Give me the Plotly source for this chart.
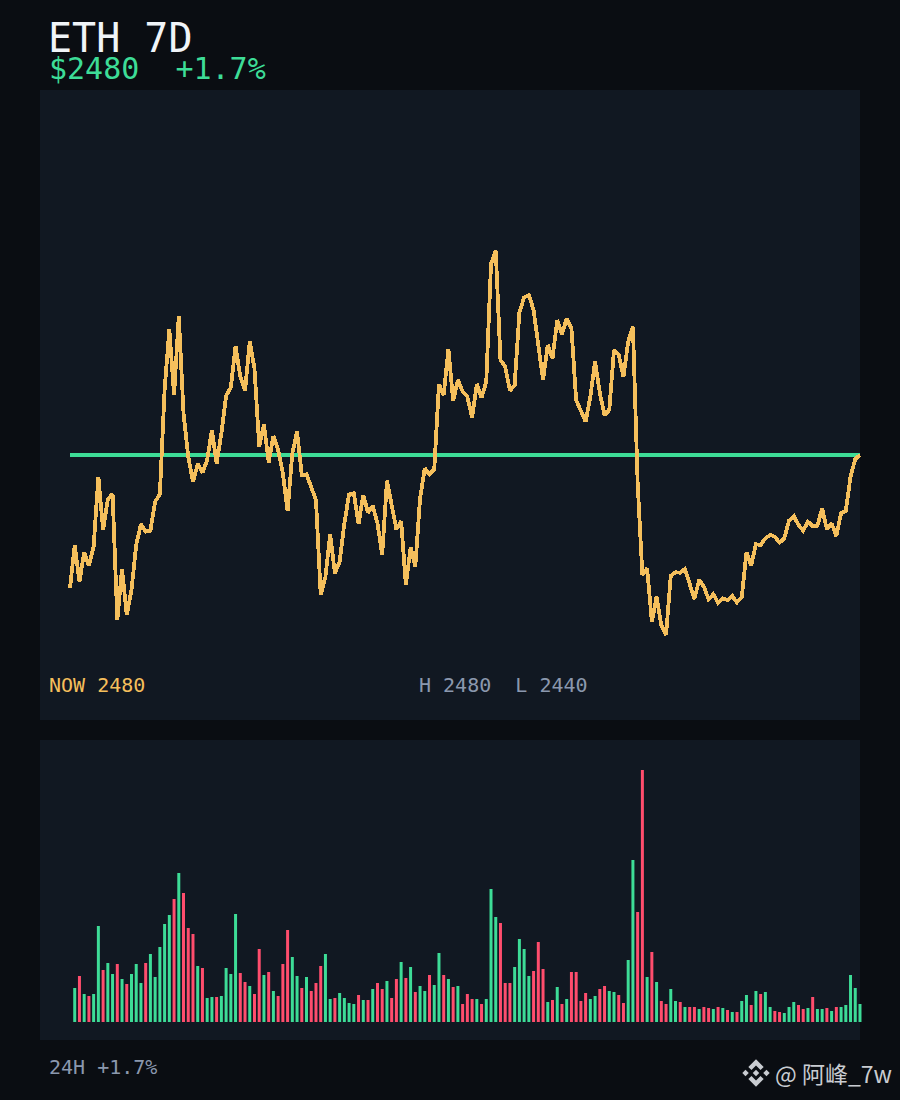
import numpy as np
import plotly.graph_objects as go

# hourly price over 7 days (168 points)
prices = [
    2440.0, 2453.0, 2442.0, 2450.8, 2446.8, 2452.5, 2473.5, 2457.5, 2466.8, 2468.3,
    2430.5, 2445.8, 2432.0, 2439.5, 2453.0, 2459.3, 2457.0, 2457.3, 2466.0, 2468.2,
    2499.5, 2517.8, 2498.0, 2521.8, 2492.5, 2479.5, 2472.0, 2477.3, 2474.7, 2478.5,
    2487.5, 2477.5, 2486.5, 2497.8, 2500.3, 2512.7, 2503.5, 2499.3, 2514.0, 2506.0,
    2482.5, 2489.2, 2477.8, 2485.7, 2481.5, 2474.5, 2463.2, 2480.5, 2487.0, 2474.0,
    2474.2, 2470.5, 2466.5, 2438.0, 2443.5, 2456.2, 2444.5, 2448.0, 2459.5, 2468.2,
    2468.5, 2459.3, 2468.0, 2462.7, 2464.7, 2459.5, 2450.0, 2472.3, 2465.5, 2457.7,
    2460.2, 2441.0, 2452.3, 2446.5, 2467.0, 2476.0, 2474.2, 2475.7, 2501.2, 2498.0,
    2511.8, 2496.2, 2502.5, 2499.0, 2497.5, 2491.2, 2501.3, 2497.2, 2502.0, 2537.3,
    2541.3, 2508.5, 2506.5, 2499.3, 2501.0, 2522.7, 2527.3, 2528.0, 2523.5, 2512.5,
    2502.5, 2513.0, 2509.0, 2520.5, 2516.2, 2521.0, 2518.0, 2496.5, 2493.5, 2490.0,
    2497.5, 2508.0, 2498.6, 2492.0, 2493.5, 2511.5, 2510.0, 2503.5, 2514.0, 2518.5,
    2471.5, 2444.0, 2446.0, 2430.0, 2437.5, 2429.0, 2426.0, 2443.8, 2444.8, 2444.7,
    2445.8, 2441.0, 2436.8, 2442.5, 2440.5, 2436.7, 2438.2, 2435.7, 2437.0, 2436.5,
    2437.7, 2435.8, 2437.3, 2450.8, 2446.8, 2453.2, 2453.0, 2455.0, 2456.0, 2455.5,
    2453.7, 2455.0, 2460.3, 2461.7, 2459.0, 2457.3, 2460.0, 2458.7, 2458.8, 2464.0,
    2457.7, 2459.5, 2455.7, 2462.5, 2463.2, 2473.5, 2478.8, 2480.0,
]

# volume for hours 1..167
volumes = [
    34, 46, 28, 26, 28, 96, 52, 59, 48, 58, 43, 38, 48, 58, 39, 59, 68, 45, 75, 98,
    107, 123, 149, 129, 94, 88, 56, 54, 24, 25, 25, 26, 54, 48, 108, 49, 40, 36, 28, 73,
    47, 50, 31, 26, 58, 92, 65, 46, 34, 45, 31, 39, 56, 68, 23, 24, 29, 24, 19, 18,
    27, 22, 22, 33, 39, 33, 41, 24, 43, 60, 44, 55, 30, 36, 31, 47, 37, 69, 47, 43,
    35, 36, 18, 28, 23, 23, 18, 23, 133, 105, 99, 39, 39, 55, 83, 73, 46, 51, 80, 53,
    20, 22, 35, 18, 23, 50, 50, 21, 29, 23, 26, 33, 36, 31, 30, 27, 19, 62, 162, 110,
    252, 45, 70, 40, 21, 18, 33, 21, 20, 15, 15, 15, 13, 15, 14, 13, 15, 14, 12, 10,
    10, 21, 27, 17, 31, 28, 30, 15, 11, 10, 9, 15, 20, 17, 13, 14, 25, 13, 13, 14,
    11, 15, 15, 17, 47, 34, 18,
]

BG = '#0a0d12'
PANEL = '#111822'
GREEN = '#3ddc97'
RED = '#ff4d6d'
AMBER = '#f5bf5c'
GREY = '#8b98ae'
WHITE = '#f0f4f8'
MARK = '#c9ccd1'
MONO = 'DejaVu Sans Mono'

W, H = 900, 1100

hours = np.arange(len(prices))
bar_hours = hours[1:]
bar_colors = [GREEN if d >= 0 else RED for d in np.diff(prices)]


def px(x):
    return x / W


def py(y):
    return 1 - y / H


def label(x, y, text, size, color, family=MONO):
    return dict(
        x=px(x), y=py(y), xref='paper', yref='paper',
        xanchor='left', yanchor='middle', showarrow=False,
        text=text, borderpad=0, borderwidth=0,
        font=dict(family=family, size=size, color=color),
    )


def panel(y0, y1):
    return dict(type='rect', xref='paper', yref='paper', layer='below',
                x0=px(40), x1=px(860), y0=py(y1), y1=py(y0),
                fillcolor=PANEL, line=dict(width=0))


def logo_shape(points, cx=756, cy=1073, r=13.7):
    path = 'M' + 'L'.join(f'{px(cx + a * r):.5f},{py(cy - b * r):.5f}' for a, b in points) + 'Z'
    return dict(type='path', xref='paper', yref='paper', path=path,
                fillcolor=MARK, line=dict(width=0))


def diamond(a, b, s=0.235):
    return [(a, b + s), (a + s, b), (a, b - s), (a - s, b)]


def chevron(sign):
    return [(0, sign), (0.56, sign * 0.44), (0.33, sign * 0.21), (0, sign * 0.54),
            (-0.33, sign * 0.21), (-0.56, sign * 0.44)]


fig = go.Figure()

# reference line at the latest price, under the price line
fig.add_trace(go.Scatter(
    x=[hours[0], hours[-1]], y=[prices[-1], prices[-1]], mode='lines',
    line=dict(color=GREEN, width=3.4), xaxis='x', yaxis='y',
    hoverinfo='skip',
))
fig.add_trace(go.Scatter(
    x=hours, y=prices, mode='lines',
    line=dict(color=AMBER, width=3.8), xaxis='x', yaxis='y',
))
fig.add_trace(go.Bar(
    x=bar_hours, y=volumes, width=0.634,
    marker=dict(color=bar_colors, line=dict(width=0)),
    xaxis='x2', yaxis='y2',
))

# axes run a little past the panels, last bar and line end stick out of them
x_range = [-6.34, 171.23]
fig.update_layout(
    width=W, height=H, autosize=False,
    margin=dict(l=0, r=0, t=0, b=0),
    paper_bgcolor=BG, plot_bgcolor='rgba(0,0,0,0)',
    showlegend=False,
    xaxis=dict(domain=[px(40), px(880)], range=x_range, visible=False),
    yaxis=dict(domain=[py(720), py(90)], range=[2400.5, 2589.5], visible=False),
    xaxis2=dict(domain=[px(40), px(880)], range=x_range, visible=False, anchor='y2'),
    yaxis2=dict(domain=[py(1040), py(740)], range=[-18, 282], visible=False, anchor='x2'),
    annotations=[
        label(48, 38, 'ETH 7D', 40, WHITE),
        label(49, 68.5, '$2480\u00a0\u00a0+1.7%', 30, GREEN),
        label(49, 685, 'NOW 2480', 20, AMBER),
        label(419, 685, 'H 2480\u00a0\u00a0L 2440', 20, GREY),
        label(49, 1067, '24H +1.7%', 20, GREY),
        label(775, 1073, '@ 阿峰_7w', 23, MARK, family='Noto Sans CJK SC'),
    ],
    shapes=[
        panel(90, 720),
        panel(740, 1040),
        logo_shape(diamond(0, 0)),
        logo_shape(diamond(-0.765, 0)),
        logo_shape(diamond(0.765, 0)),
        logo_shape(chevron(1)),
        logo_shape(chevron(-1)),
    ],
)

# the page has to start at the window corner, lines stay hard-edged like the original
post = """
document.body.style.margin = '0';
document.body.style.overflow = 'hidden';
document.body.style.background = '#0a0d12';
document.querySelectorAll('.js-line').forEach(function (p) { p.style.shapeRendering = 'crispEdges'; });
"""
fig.write_html("out.html", post_script=post, config={'displayModeBar': False})
